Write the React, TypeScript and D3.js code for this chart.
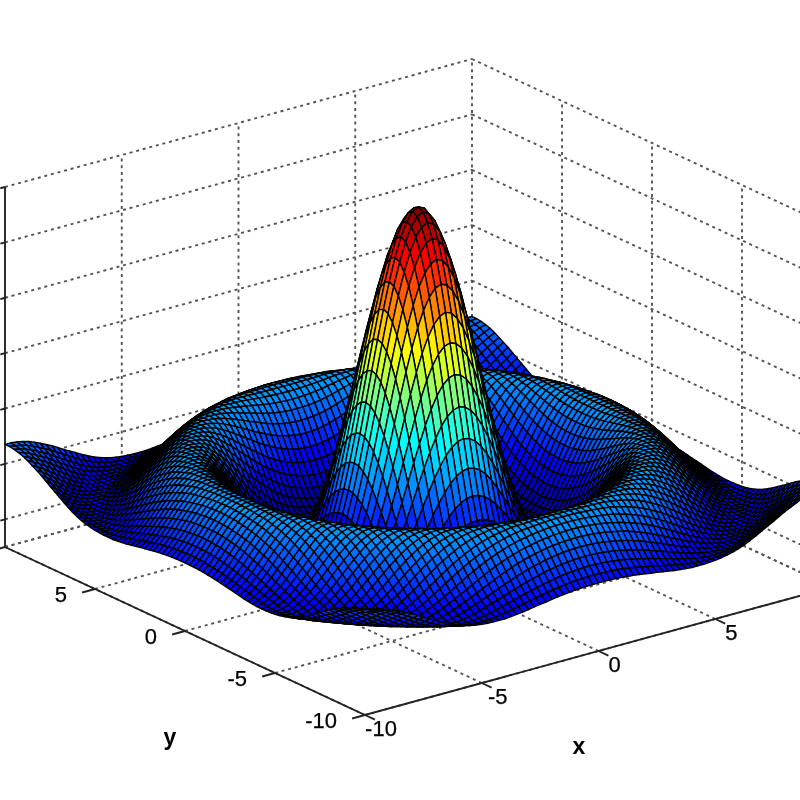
import * as d3 from "d3";

// heights read along the radius of the surface, one every 0.25 units from the centre
const radiusStep = 0.25;
const profile = [
  1.0, 0.99, 0.959, 0.909, 0.841, 0.759, 0.665, 0.562, 0.455, 0.346, 0.239, 0.139,
  0.047, -0.034, -0.1, -0.152, -0.189, -0.211, -0.217, -0.21, -0.192, -0.164, -0.128, -0.088,
  -0.047, -0.005, 0.033, 0.067, 0.094, 0.114, 0.125, 0.128, 0.124, 0.112, 0.094, 0.071,
  0.046, 0.019, -0.008, -0.033, -0.054, -0.071, -0.084, -0.091, -0.091, -0.087, -0.078, -0.064,
  -0.045, -0.024, -0.005, 0.016, 0.032, 0.048, 0.06, 0.067, 0.071, 0.07,
];
const gridStep = 0.25;
const xTicks = [-10, -5, 0, 5, 10];
const yTicks = [-10, -5, 0, 5, 10];
const zTicks = [-0.2, 0, 0.2, 0.4, 0.6, 0.8, 1];
const jetStops = ["#00007f", "#0000ff", "#00ffff", "#ffff00", "#ff0000", "#7f0000"];
const jetDomain = [0, 0.125, 0.375, 0.625, 0.875, 1];

// oblique projection of the box, front corner is x=-10, y=-10, z=-0.3
const xScreenX = d3.scaleLinear().domain([-10, 10]).range([0, 467]);
const xScreenY = d3.scaleLinear().domain([-10, 10]).range([0, -128]);
const yScreenX = d3.scaleLinear().domain([-10, 10]).range([0, -360]);
const yScreenY = d3.scaleLinear().domain([-10, 10]).range([0, -168]);
const zScreenY = d3.scaleLinear().domain([-0.3, 1]).range([0, -360]);
const front: [number, number] = [365, 715];

function project(x: number, y: number, z: number): [number, number] {
  return [
    front[0] + xScreenX(x) + yScreenX(y),
    front[1] + xScreenY(x) + yScreenY(y) + zScreenY(z),
  ];
}

const heightAt = d3
  .scaleLinear()
  .domain(profile.map((_, i) => i * radiusStep))
  .range(profile);
const jet = d3
  .scaleLinear<string>()
  .domain(jetDomain)
  .range(jetStops)
  .interpolate(d3.interpolateRgb);
const colorOf = d3.scaleLinear().domain([d3.min(profile)!, d3.max(profile)!]).range([0, 1]);

const surfaceZ = (x: number, y: number) => heightAt(Math.hypot(x, y));
const path = d3.line();

export default function App() {
  const n = Math.round(20 / gridStep);
  const cells: { d: string; fill: string }[] = [];
  // far corner first so nearer cells cover it
  for (const i of d3.range(n - 1, -1, -1)) {
    for (const j of d3.range(n - 1, -1, -1)) {
      const x0 = -10 + i * gridStep;
      const x1 = x0 + gridStep;
      const y0 = -10 + j * gridStep;
      const y1 = y0 + gridStep;
      const corners = [
        [x0, y0],
        [x1, y0],
        [x1, y1],
        [x0, y1],
      ];
      const zs = corners.map(([a, b]) => surfaceZ(a, b));
      cells.push({
        d: path(corners.map(([a, b], k) => project(a, b, zs[k])))! + "Z",
        fill: jet(colorOf(d3.mean(zs)!)),
      });
    }
  }

  const gridLine = (a: [number, number, number], b: [number, number, number], key: string) => (
    <path
      key={key}
      d={path([project(...a), project(...b)])!}
      fill="none"
      stroke="#555"
      strokeWidth={1.9}
      strokeDasharray="3 3.8"
    />
  );
  const axisLine = (pts: [number, number][], key: string) => (
    <path key={key} d={path(pts)!} fill="none" stroke="#222" strokeWidth={1.9} />
  );

  const zTop = 1;
  const zBottom = -0.3;

  return (
    <svg
      width={800}
      height={800}
      style={{ position: "absolute", left: 0, top: 0, display: "block" }}
      fontFamily="Liberation Sans"
    >
      <defs>
        <filter id="soft" filterUnits="userSpaceOnUse" x="0" y="0" width="800" height="800">
          <feGaussianBlur stdDeviation="0.75" />
        </filter>
      </defs>
      <rect width={800} height={800} fill="#fff" />
      <g filter="url(#soft)">
        {/* walls and floor */}
        {xTicks.map((x) => (
          <g key={`x${x}`}>
            {gridLine([x, -10, zBottom], [x, 10, zBottom], "floor")}
            {x > -10 && gridLine([x, 10, zBottom], [x, 10, zTop], "wall")}
          </g>
        ))}
        {yTicks.map((y) => (
          <g key={`y${y}`}>
            {gridLine([-10, y, zBottom], [10, y, zBottom], "floor")}
            {y < 10 && gridLine([10, y, zBottom], [10, y, zTop], "wall")}
          </g>
        ))}
        {[zBottom, ...zTicks].map((z) => (
          <g key={`z${z}`}>
            {gridLine([-10, 10, z], [10, 10, z], "a")}
            {gridLine([10, 10, z], [10, -10, z], "b")}
          </g>
        ))}

        {/* axes */}
        {axisLine([project(-10, 10, zBottom), project(-10, -10, zBottom), project(10, -10, zBottom)], "base")}
        {axisLine([project(-10, 10, zBottom), project(-10, 10, zTop)], "zaxis")}
        {yTicks.map((y) =>
          axisLine([project(-10, y, zBottom), project(-10.55, y, zBottom)], `yt${y}`)
        )}
        {xTicks.map((x) =>
          axisLine([project(x, -10, zBottom), project(x, -10.55, zBottom)], `xt${x}`)
        )}
        {zTicks.map((z) =>
          axisLine([project(-10, 10, z), project(-10.2, 10, z)], `zt${z}`)
        )}

        {/* surface */}
        <g stroke="#000" strokeWidth={1.4} strokeLinejoin="round">
          {cells.map((c, i) => (
            <path key={i} d={c.d} fill={c.fill} />
          ))}
        </g>

        {/* tick labels */}
        <g fontSize={22} fill="#000" stroke="#000" strokeWidth={0.25}>
          {yTicks
            .filter((y) => y < 10)
            .map((y) => {
              const [px, py] = project(-10, y, zBottom);
              return (
                <text key={y} x={px - 28} y={py + 13} textAnchor="end">
                  {y}
                </text>
              );
            })}
          {xTicks
            .filter((x) => x < 10)
            .map((x) => {
              const [px, py] = project(x, -10, zBottom);
              return (
                <text key={x} x={px + 16} y={py + 21} textAnchor="middle">
                  {x}
                </text>
              );
            })}
        </g>
        <text x={170} y={745} fontSize={23} fontWeight="bold" textAnchor="middle" fill="#000">
          y
        </text>
        <text x={579} y={754} fontSize={23} fontWeight="bold" textAnchor="middle" fill="#000">
          x
        </text>
      </g>
    </svg>
  );
}
